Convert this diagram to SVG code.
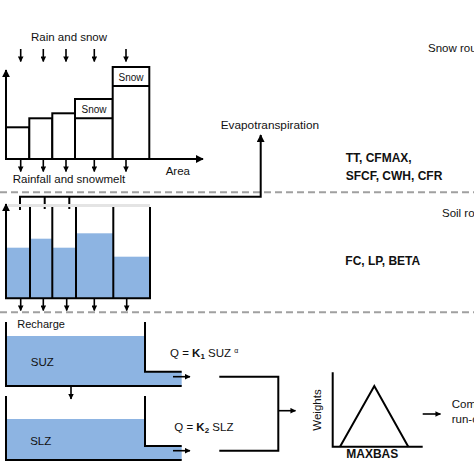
<svg xmlns="http://www.w3.org/2000/svg" width="474" height="474" viewBox="0 0 474 474">
<defs>
<marker id="ah" viewBox="0 0 10 10" refX="9" refY="5" markerWidth="4" markerHeight="4" orient="auto-start-reverse" markerUnits="strokeWidth">
<path d="M0,0 L10,5 L0,10 z" fill="#000"/>
</marker>
<marker id="ahs" viewBox="0 0 10 10" refX="9" refY="5" markerWidth="3.5" markerHeight="3.5" orient="auto" markerUnits="strokeWidth">
<path d="M0,0 L10,5 L0,10 z" fill="#000"/>
</marker>
</defs>
<style>
text{font-family:"Liberation Sans",Arial,sans-serif;fill:#111}
.t{font-size:11.5px}
.s{font-size:10px}
.b{font-size:12px;font-weight:bold}
.ln{fill:none;stroke:#000;stroke-width:2}
.dash{fill:none;stroke:#a0a0a0;stroke-width:2;stroke-dasharray:7 4}
.water{fill:#8db4e2;stroke:none}
.bar{fill:#fff;stroke:#000;stroke-width:2}
.arr{fill:none;stroke:#000;stroke-width:1.6;marker-end:url(#ahs)}
</style>
<rect width="474" height="474" fill="#fff"/>

<g id="separators">
<line class="dash" x1="0" y1="192.3" x2="474" y2="192.3"/>
<line class="dash" x1="0" y1="312.3" x2="474" y2="312.3"/>
</g>

<g id="snow-routine">
<text class="t" x="31" y="41">Rain and snow</text>
<g id="snow-bars">
<rect class="bar" x="6" y="127.3" width="23.3" height="31.7"/>
<rect class="bar" x="29.3" y="118.3" width="23" height="40.7"/>
<rect class="bar" x="52.3" y="113.3" width="22.7" height="45.7"/>
<rect class="bar" x="75" y="99" width="37.7" height="60"/>
<line class="ln" x1="75" y1="118.3" x2="112.7" y2="118.3"/>
<rect class="bar" x="112.7" y="67" width="36.6" height="92"/>
<line class="ln" x1="112.7" y1="86" x2="149.3" y2="86"/>
<text class="s" x="94" y="112.5" text-anchor="middle">Snow</text>
<text class="s" x="131" y="80.5" text-anchor="middle">Snow</text>
</g>
<path class="ln" d="M6,159 V70" marker-end="url(#ah)"/>
<path class="ln" d="M6,159 H203" marker-end="url(#ah)"/>
<g id="snow-arrows">
<path class="arr" d="M20.7,49 V61.5"/>
<path class="arr" d="M43.3,49 V61.5"/>
<path class="arr" d="M66,49 V61.5"/>
<path class="arr" d="M94.3,49 V61.5"/>
<path class="arr" d="M126,49 V61.5"/>
<path class="arr" d="M20.7,160 V171.5"/>
<path class="arr" d="M43.3,160 V171.5"/>
<path class="arr" d="M66,160 V171.5"/>
<path class="arr" d="M94.3,160 V171.5"/>
<path class="arr" d="M126,160 V171.5"/>
</g>
<text class="t" x="165.7" y="175">Area</text>
<text class="t" x="12.7" y="183">Rainfall and snowmelt</text>
<text class="t" x="428" y="51.5">Snow routine</text>
<text class="b" x="345.7" y="162">TT, CFMAX,</text>
<text class="b" x="345.7" y="179.5">SFCF, CWH, CFR</text>
</g>

<g id="evapotranspiration">
<text x="220.7" y="129" font-size="11.8">Evapotranspiration</text>
<path class="ln" d="M20,210 V196.8 H260.7 V135" marker-end="url(#ah)"/>
<path class="ln" d="M44.7,196.8 V209"/>
<path class="ln" d="M69.3,196.8 V209"/>
</g>

<g id="soil-routine">
<line x1="8" y1="205.5" x2="150" y2="205.5" stroke="#e4e4e4" stroke-width="3"/>
<rect class="water" x="6" y="247.7" width="24" height="50.6"/>
<rect class="water" x="30" y="238.7" width="22.3" height="59.6"/>
<rect class="water" x="52.3" y="247.7" width="23.7" height="50.6"/>
<rect class="water" x="76" y="233.3" width="37.3" height="65"/>
<rect class="water" x="113.3" y="256.7" width="36.7" height="41.6"/>
<path class="ln" d="M6,298.3 V204" marker-end="url(#ah)"/>
<path class="ln" d="M5,298.3 H151"/>
<path class="ln" d="M30,207 V298.3 M52.3,207 V298.3 M76,207 V298.3 M113.3,207 V298.3 M150,207 V298.3"/>
<g id="soil-arrows">
<path class="arr" d="M20.7,299 V310.5"/>
<path class="arr" d="M43.3,299 V310.5"/>
<path class="arr" d="M66.7,299 V310.5"/>
<path class="arr" d="M94.3,299 V310.5"/>
<path class="arr" d="M126.7,299 V310.5"/>
</g>
<text class="t" x="442" y="217">Soil routine</text>
<text class="b" x="345.3" y="264.5">FC, LP, BETA</text>
</g>

<g id="suz">
<text x="17.3" y="328" font-size="11">Recharge</text>
<path class="water" d="M6,336 H145 V371.7 H181.7 V386 H6 Z"/>
<path class="ln" d="M6,322 V386 H181.7"/>
<path class="ln" d="M145,322 V371.7 H181.7"/>
<path class="arr" d="M173,376.7 H190"/>
<text class="t" x="42.3" y="366" text-anchor="middle">SUZ</text>
<text class="t" x="170" y="357">Q = <tspan font-weight="bold">K</tspan><tspan font-weight="bold" font-size="8" dy="2">1</tspan><tspan dy="-2"> SUZ </tspan><tspan font-size="7" dy="-4">α</tspan></text>
</g>

<path class="arr" d="M71,387 V399" id="percolation"/>

<g id="slz">
<path class="water" d="M6,419 H145 V446 H181.7 V460 H6 Z"/>
<path class="ln" d="M6,396 V460 H181.7"/>
<path class="ln" d="M145,396 V446 H181.7"/>
<path class="arr" d="M173,450.7 H190"/>
<text class="t" x="40.7" y="445" text-anchor="middle">SLZ</text>
<text class="t" x="174.3" y="431">Q = <tspan font-weight="bold">K</tspan><tspan font-weight="bold" font-size="8" dy="2">2</tspan><tspan dy="-2"> SLZ</tspan></text>
</g>

<g id="connectors">
<path class="ln" d="M219.3,376.7 H278.3 V450.7 H219.3"/>
<path class="arr" d="M278.3,410.7 H295.5"/>
<path class="arr" d="M422.7,414 H440.5"/>
</g>

<g id="maxbas">
<path class="ln" d="M332.7,372.3 V446.7 H422.7"/>
<path class="ln" d="M340,446.7 L374.3,386 L408.3,446.7"/>
<text transform="translate(320.8,410) rotate(-90)" text-anchor="middle" font-size="11.5">Weights</text>
<text class="b" x="372.3" y="457.5" text-anchor="middle">MAXBAS</text>
</g>

<g id="output">
<text class="t" x="451.7" y="408">Computed</text>
<text class="t" x="451.7" y="423">run-off</text>
</g>
</svg>
